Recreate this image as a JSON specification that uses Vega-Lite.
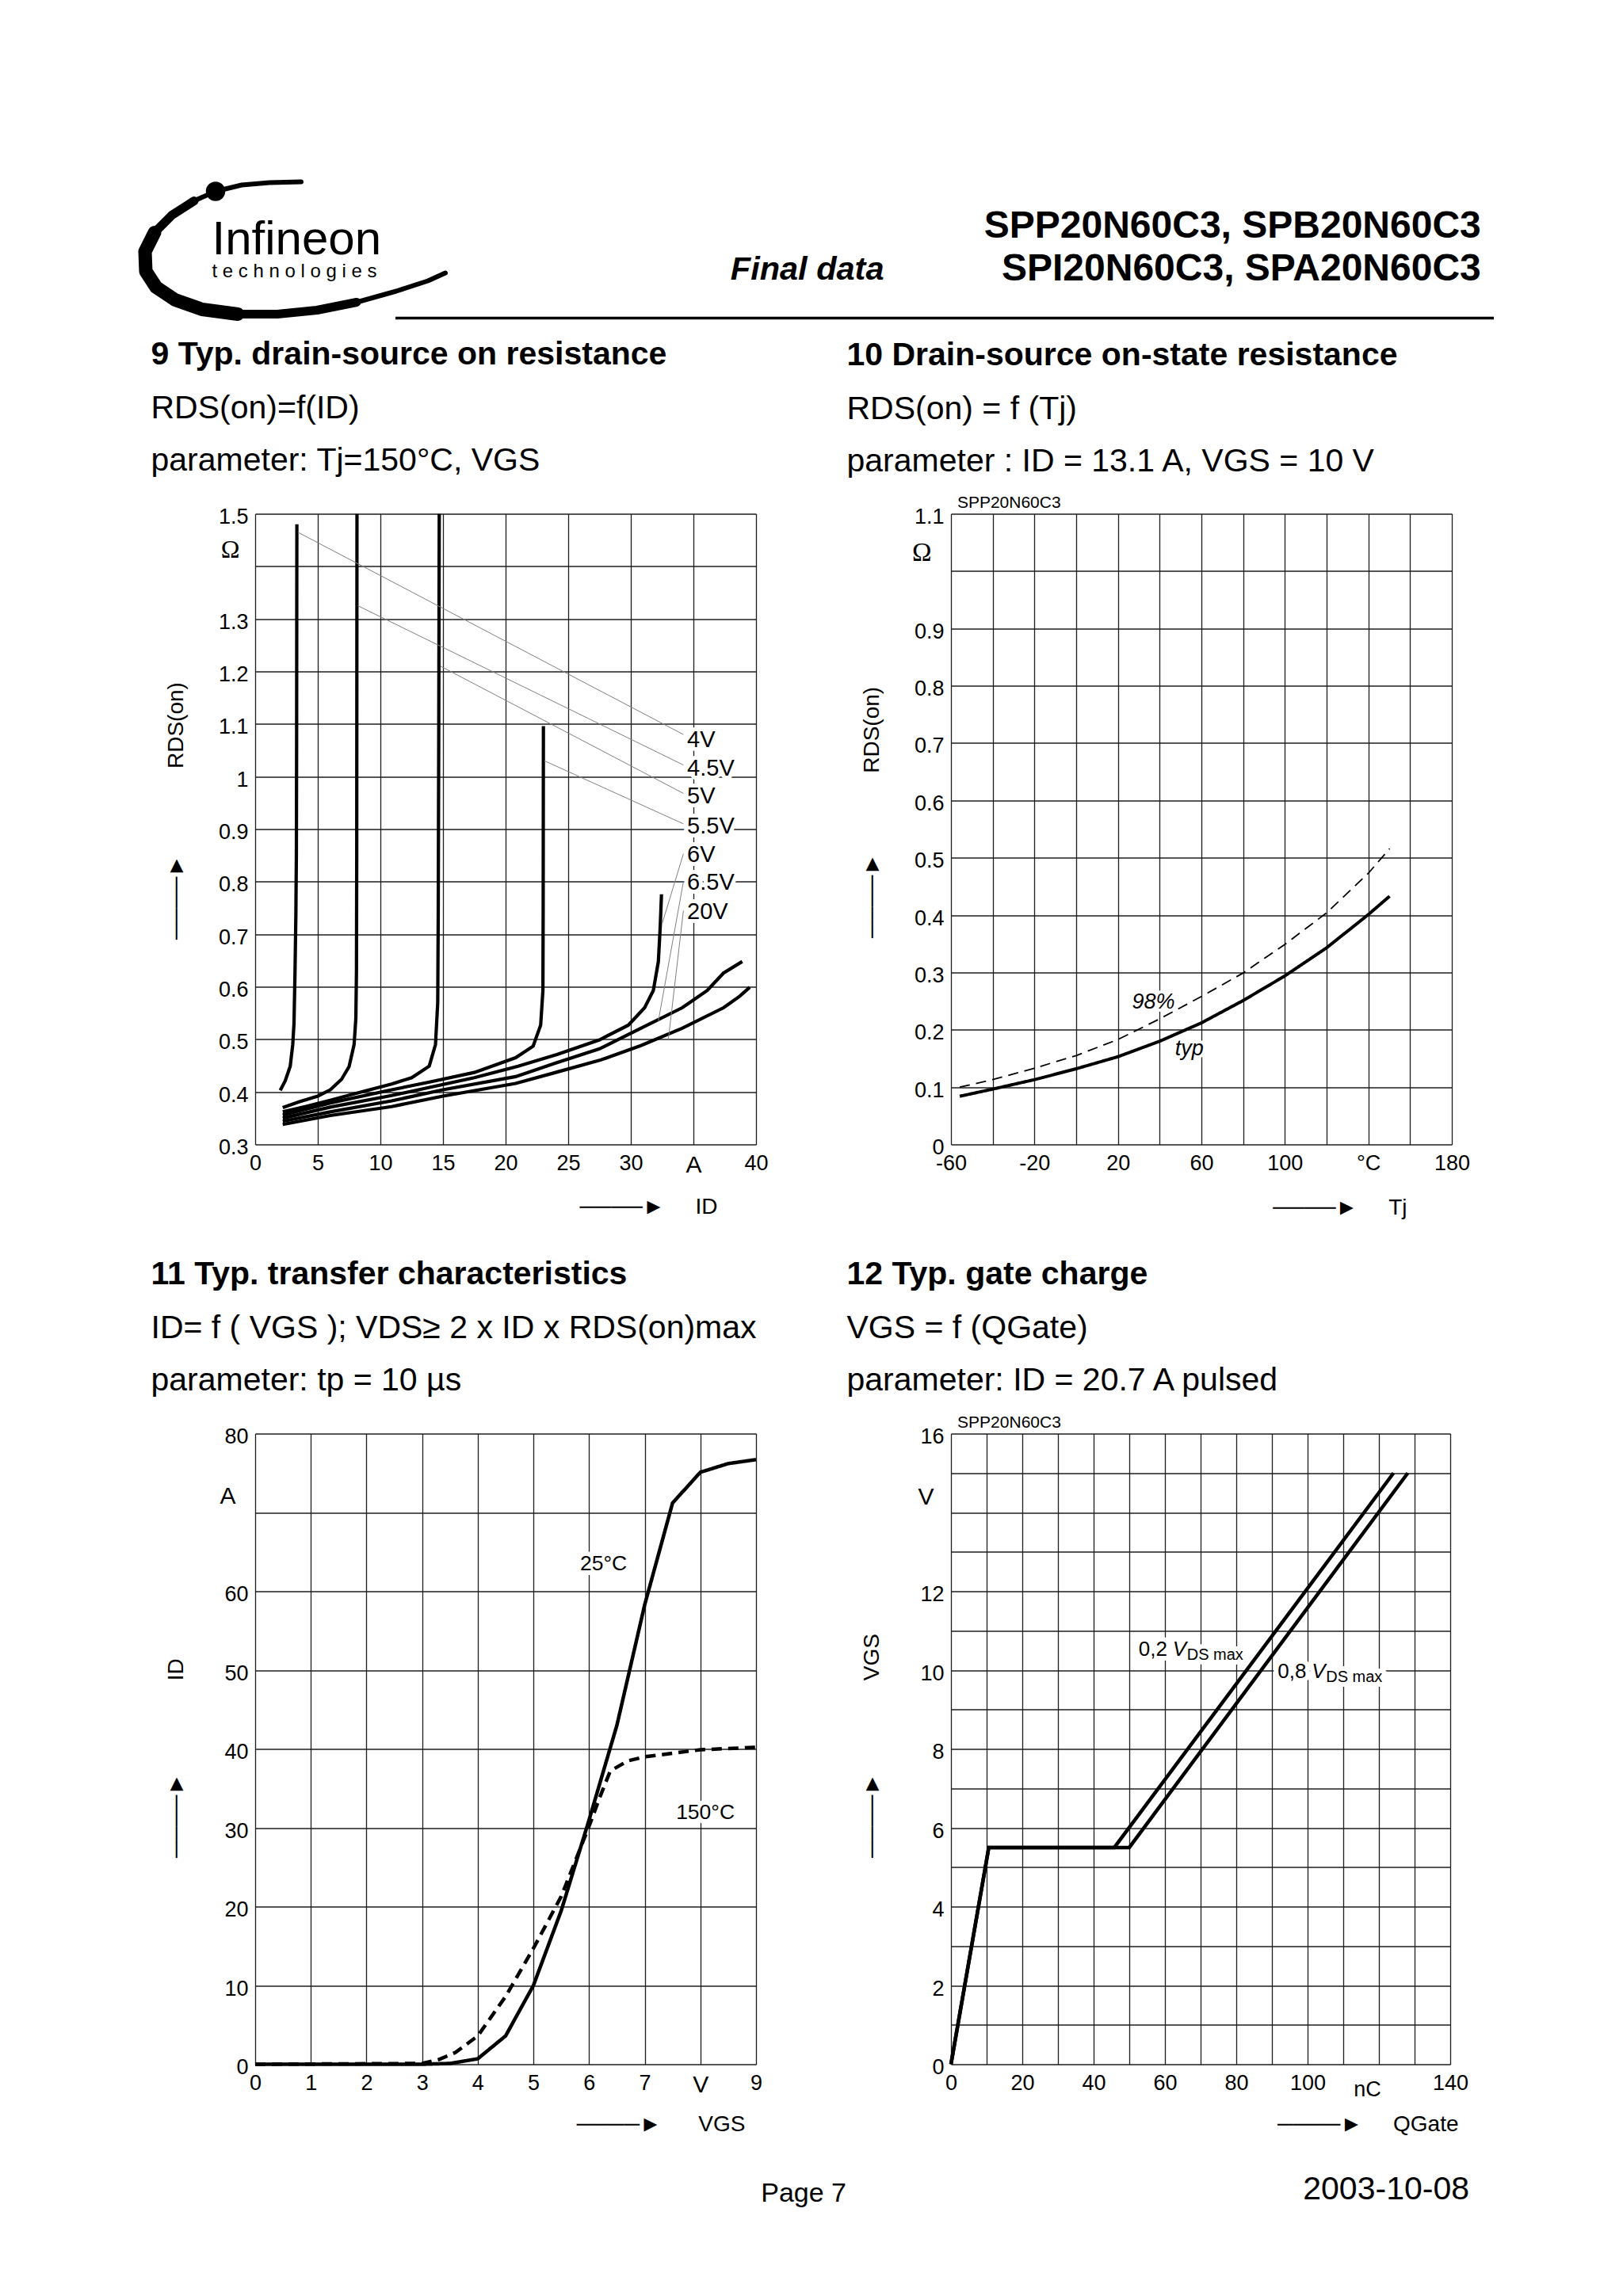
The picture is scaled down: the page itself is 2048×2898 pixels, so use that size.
{
  "$schema": "https://vega.github.io/schema/vega-lite/v6.json",
  "background": "white",
  "padding": {"left": 174, "top": 221.5, "right": 10, "bottom": 10},
  "title": {"text": ["SPP20N60C3, SPB20N60C3", "SPI20N60C3, SPA20N60C3"], "orient": "top", "anchor": "end", "frame": "bounds", "dx": -18, "dy": 142.6, "offset": 0, "fontSize": 48, "fontWeight": "bold", "lineHeight": 54},
  "columns": 2,
  "spacing": {"row": 365, "column": 246},
  "bounds": "flush",
  "align": "each",
  "datasets": {
    "crescent": [
      {"i": 1, "x": 205, "y": 8}, {"i": 2, "x": 165, "y": 9}, {"i": 3, "x": 130, "y": 12}, {"i": 4, "x": 97, "y": 20},
      {"i": 5, "x": 70, "y": 32}, {"i": 6, "x": 42, "y": 50}, {"i": 7, "x": 20, "y": 72}, {"i": 8, "x": 8, "y": 96},
      {"i": 9, "x": 9, "y": 121}, {"i": 10, "x": 22, "y": 141}, {"i": 11, "x": 46, "y": 157}, {"i": 12, "x": 80, "y": 169},
      {"i": 13, "x": 125, "y": 175}, {"i": 14, "x": 175, "y": 175}, {"i": 15, "x": 225, "y": 170}, {"i": 16, "x": 275, "y": 160},
      {"i": 17, "x": 325, "y": 146}, {"i": 18, "x": 365, "y": 133}, {"i": 19, "x": 387, "y": 123}
    ]
  },
  "config": {
    "view": {"stroke": null},
    "font": "Liberation Sans",
    "axis": {"grid": true, "gridColor": "#1e1e1e", "gridWidth": 1.3, "gridOpacity": 1, "domain": false, "ticks": false, "tickSize": 0,
      "labelFont": "Liberation Sans", "labelFontSize": 27, "labelColor": "#000", "labelOverlap": false, "labelFlush": false,
      "titleFont": "Liberation Sans", "titleFontSize": 28, "titleFontWeight": "normal", "titleColor": "#000", "titleLimit": 1000},
    "axisX": {"labelPadding": 10.5, "titleAngle": 0, "titleAlign": "right", "titleBaseline": "alphabetic"},
    "axisY": {"labelPadding": 9, "titleAngle": -90, "titleAlign": "left", "titleBaseline": "alphabetic"},
    "title": {"font": "Liberation Sans", "fontSize": 41, "fontWeight": "bold", "color": "#000",
      "subtitleFont": "Liberation Sans", "subtitleFontSize": 41, "subtitleFontWeight": "normal", "subtitleColor": "#000",
      "subtitleLineHeight": 66, "subtitlePadding": 27, "anchor": "start", "frame": "group", "orient": "top"},
    "text": {"font": "Liberation Sans", "fill": "#000"}
  },
  "concat": [
    {
      "width": 632, "height": 61.5,
      "title": {"text": "Page 7", "orient": "bottom", "fontSize": 34, "fontWeight": "normal", "anchor": "end", "frame": "group", "dx": 114, "offset": 2346.5},
      "encoding": {
        "x": {"field": "x", "type": "quantitative", "scale": {"domain": [147, 779], "nice": false, "zero": false}, "axis": null},
        "y": {"field": "y", "type": "quantitative", "scale": {"domain": [0, 61.5], "reverse": true, "nice": false, "zero": false}, "axis": null}
      },
      "layer": [
        {
          "data": {"name": "crescent"},
          "mark": {"type": "line", "stroke": "#000", "strokeWidth": 6, "strokeCap": "round", "strokeJoin": "round"},
          "encoding": {"order": {"field": "i", "type": "quantitative"}}
        },
        {
          "data": {"name": "crescent"},
          "transform": [{"filter": "datum.i >= 5 && datum.i <= 16"}],
          "mark": {"type": "line", "stroke": "#000", "strokeWidth": 11, "strokeCap": "round", "strokeJoin": "round"},
          "encoding": {"order": {"field": "i", "type": "quantitative"}}
        },
        {
          "data": {"name": "crescent"},
          "transform": [{"filter": "datum.i >= 7 && datum.i <= 13"}],
          "mark": {"type": "line", "stroke": "#000", "strokeWidth": 17, "strokeCap": "round", "strokeJoin": "round"},
          "encoding": {"order": {"field": "i", "type": "quantitative"}}
        },
        {
          "data": {"values": [{"x": 97, "y": 20}]},
          "mark": {"type": "point", "shape": "circle", "filled": true, "fill": "#000", "opacity": 1, "size": 600},
          "encoding": {}
        },
        {
          "data": {"values": [{"t": "Infineon", "x": 92.5, "y": 99}]},
          "mark": {"type": "text", "align": "left", "baseline": "alphabetic", "fontSize": 60},
          "encoding": {"text": {"field": "t"}}
        },
        {
          "data": {"values": [{"t": "t e c h n o l o g i e s", "x": 92.5, "y": 128.5}]},
          "mark": {"type": "text", "align": "left", "baseline": "alphabetic", "fontSize": 24},
          "encoding": {"text": {"field": "t"}}
        },
        {
          "data": {"values": [{"t": "Final data", "x": 746.8, "y": 131.2}]},
          "mark": {"type": "text", "align": "left", "baseline": "alphabetic", "fontSize": 41.5, "fontStyle": "italic", "fontWeight": "bold"},
          "encoding": {"text": {"field": "t"}}
        },
        {
          "data": {"values": [{"x": 324, "x2": 1710, "y": 180}]},
          "mark": {"type": "rule", "stroke": "#000", "strokeWidth": 3.5},
          "encoding": {"x2": {"field": "x2"}}
        }
      ]
    },
    {
      "width": 632, "height": 61.5,
      "title": {"text": "2003-10-08", "orient": "bottom", "fontSize": 41, "fontWeight": "normal", "anchor": "end", "frame": "group", "dx": 22, "offset": 2461.3},
      "data": {"values": [{}]},
      "mark": {"type": "text"},
      "encoding": {}
    },
    {
      "width": 632, "height": 796,
      "title": {"text": "9 Typ. drain-source on resistance", "subtitle": ["RDS(on)=f(ID)", "parameter: Tj=150°C, VGS"], "dx": -131.5, "offset": 35.5},
      "encoding": {
        "x": {"field": "x", "type": "quantitative", "scale": {"domain": [0, 40], "nice": false, "zero": false},
          "axis": {"values": [0, 5, 10, 15, 20, 25, 30, 35, 40], "labelExpr": "datum.value == 35 ? 'A' : format(datum.value, 'd')",
            "labelFontSize": {"condition": {"test": "datum.value == 35", "value": 30}, "value": 27},
            "title": "\u2500\u2500\u2500\u2500\u25ba\u00a0\u00a0\u00a0\u00a0\u00a0ID", "titleX": 583, "titleY": 87}},
        "y": {"field": "y", "type": "quantitative", "scale": {"domain": [0.3, 1.5], "nice": false, "zero": false},
          "axis": {"values": [0.3, 0.4, 0.5, 0.6, 0.7, 0.8, 0.9, 1, 1.1, 1.2, 1.3, 1.4, 1.5],
            "labelExpr": "datum.value == 1.4 ? 'Ω' : format(datum.value, '.1~f')",
            "labelOffset": {"condition": {"test": "datum.value == 1.4", "value": -21}, "value": 4},
            "labelPadding": {"condition": {"test": "datum.value == 1.4", "value": 20}, "value": 9},
            "labelFont": {"condition": {"test": "datum.value == 1.4", "value": "Liberation Serif"}, "value": "Liberation Sans"},
            "labelFontSize": {"condition": {"test": "datum.value == 1.4", "value": 32}, "value": 27},
            "title": "\u2500\u2500\u2500\u2500\u25ba\u00a0\u00a0\u00a0\u00a0\u00a0\u00a0\u00a0\u00a0\u00a0\u00a0\u00a0\u00a0\u00a0\u00a0RDS(on)", "titleX": -92, "titleY": 537}}
      },
      "layer": [
        {
          "data": {"values": [
            {"s": "4V", "x": 2.0, "y": 0.403}, {"s": "4V", "x": 2.4, "y": 0.421}, {"s": "4V", "x": 2.8, "y": 0.449}, {"s": "4V", "x": 3.0, "y": 0.49},
            {"s": "4V", "x": 3.1, "y": 0.53}, {"s": "4V", "x": 3.18, "y": 0.626}, {"s": "4V", "x": 3.25, "y": 0.737}, {"s": "4V", "x": 3.29, "y": 0.85},
            {"s": "4V", "x": 3.31, "y": 1.07}, {"s": "4V", "x": 3.32, "y": 1.29}, {"s": "4V", "x": 3.33, "y": 1.48},
            {"s": "4.5V", "x": 2.2, "y": 0.37}, {"s": "4.5V", "x": 3.5, "y": 0.381}, {"s": "4.5V", "x": 5.0, "y": 0.392}, {"s": "4.5V", "x": 6.0, "y": 0.404},
            {"s": "4.5V", "x": 6.9, "y": 0.424}, {"s": "4.5V", "x": 7.5, "y": 0.448}, {"s": "4.5V", "x": 7.9, "y": 0.49}, {"s": "4.5V", "x": 8.04, "y": 0.54},
            {"s": "4.5V", "x": 8.09, "y": 0.63}, {"s": "4.5V", "x": 8.11, "y": 0.85}, {"s": "4.5V", "x": 8.12, "y": 1.2}, {"s": "4.5V", "x": 8.13, "y": 1.5},
            {"s": "5V", "x": 2.2, "y": 0.362}, {"s": "5V", "x": 4.0, "y": 0.372}, {"s": "5V", "x": 6.0, "y": 0.384}, {"s": "5V", "x": 8.0, "y": 0.397},
            {"s": "5V", "x": 10.9, "y": 0.415}, {"s": "5V", "x": 12.5, "y": 0.427}, {"s": "5V", "x": 13.9, "y": 0.449}, {"s": "5V", "x": 14.4, "y": 0.49},
            {"s": "5V", "x": 14.58, "y": 0.57}, {"s": "5V", "x": 14.62, "y": 0.74}, {"s": "5V", "x": 14.66, "y": 1.07}, {"s": "5V", "x": 14.7, "y": 1.5},
            {"s": "5.5V", "x": 2.2, "y": 0.356}, {"s": "5.5V", "x": 6.0, "y": 0.379}, {"s": "5.5V", "x": 10.9, "y": 0.404}, {"s": "5.5V", "x": 14.0, "y": 0.419},
            {"s": "5.5V", "x": 17.5, "y": 0.437}, {"s": "5.5V", "x": 20.8, "y": 0.465}, {"s": "5.5V", "x": 22.2, "y": 0.487}, {"s": "5.5V", "x": 22.8, "y": 0.527},
            {"s": "5.5V", "x": 22.98, "y": 0.593}, {"s": "5.5V", "x": 23.0, "y": 0.74}, {"s": "5.5V", "x": 23.02, "y": 1.096},
            {"s": "6V", "x": 2.2, "y": 0.35}, {"s": "6V", "x": 6.0, "y": 0.371}, {"s": "6V", "x": 10.9, "y": 0.393}, {"s": "6V", "x": 14.0, "y": 0.409},
            {"s": "6V", "x": 17.5, "y": 0.427}, {"s": "6V", "x": 21.0, "y": 0.449}, {"s": "6V", "x": 24.1, "y": 0.471}, {"s": "6V", "x": 27.5, "y": 0.499},
            {"s": "6V", "x": 29.8, "y": 0.527}, {"s": "6V", "x": 31.1, "y": 0.56}, {"s": "6V", "x": 31.8, "y": 0.593}, {"s": "6V", "x": 32.2, "y": 0.648},
            {"s": "6V", "x": 32.35, "y": 0.715}, {"s": "6V", "x": 32.45, "y": 0.776},
            {"s": "6.5V", "x": 2.2, "y": 0.344}, {"s": "6.5V", "x": 6.0, "y": 0.362}, {"s": "6.5V", "x": 10.9, "y": 0.383}, {"s": "6.5V", "x": 15.0, "y": 0.404},
            {"s": "6.5V", "x": 20.8, "y": 0.429}, {"s": "6.5V", "x": 24.0, "y": 0.455}, {"s": "6.5V", "x": 27.5, "y": 0.482}, {"s": "6.5V", "x": 30.8, "y": 0.521},
            {"s": "6.5V", "x": 34.1, "y": 0.56}, {"s": "6.5V", "x": 36.1, "y": 0.593}, {"s": "6.5V", "x": 37.4, "y": 0.626}, {"s": "6.5V", "x": 38.9, "y": 0.648},
            {"s": "20V", "x": 2.2, "y": 0.338}, {"s": "20V", "x": 6.0, "y": 0.355}, {"s": "20V", "x": 10.9, "y": 0.372}, {"s": "20V", "x": 15.0, "y": 0.392},
            {"s": "20V", "x": 20.8, "y": 0.416}, {"s": "20V", "x": 24.0, "y": 0.437}, {"s": "20V", "x": 27.5, "y": 0.46}, {"s": "20V", "x": 30.8, "y": 0.488},
            {"s": "20V", "x": 34.1, "y": 0.521}, {"s": "20V", "x": 37.4, "y": 0.56}, {"s": "20V", "x": 38.7, "y": 0.582}, {"s": "20V", "x": 39.5, "y": 0.599}
          ]},
          "mark": {"type": "line", "stroke": "#000", "strokeWidth": 4.2, "clip": true},
          "encoding": {"detail": {"field": "s", "type": "nominal"}}
        },
        {
          "data": {"values": [
            {"x": 3.4, "y": 1.465, "x2": 34.2, "y2": 1.08}, {"x": 8.2, "y": 1.325, "x2": 34.2, "y2": 1.022},
            {"x": 14.8, "y": 1.21, "x2": 34.2, "y2": 0.968}, {"x": 23.1, "y": 1.03, "x2": 34.2, "y2": 0.91},
            {"x": 34.2, "y": 0.853, "x2": 32.5, "y2": 0.72}, {"x": 34.2, "y": 0.8, "x2": 32.2, "y2": 0.535},
            {"x": 34.2, "y": 0.745, "x2": 33.0, "y2": 0.5}
          ]},
          "mark": {"type": "rule", "stroke": "#808080", "strokeWidth": 1},
          "encoding": {"x2": {"field": "x2"}, "y2": {"field": "y2"}}
        },
        {
          "data": {"values": [
            {"t": "4V", "x": 34.5, "y": 1.069}, {"t": "4.5V", "x": 34.5, "y": 1.016}, {"t": "5V", "x": 34.5, "y": 0.962},
            {"t": "5.5V", "x": 34.5, "y": 0.905}, {"t": "6V", "x": 34.5, "y": 0.851}, {"t": "6.5V", "x": 34.5, "y": 0.798}, {"t": "20V", "x": 34.5, "y": 0.743}
          ]},
          "layer": [
            {"mark": {"type": "text", "align": "left", "baseline": "middle", "fontSize": 29, "stroke": "white", "strokeWidth": 10, "strokeJoin": "round"}, "encoding": {"text": {"field": "t"}}},
            {"mark": {"type": "text", "align": "left", "baseline": "middle", "fontSize": 29}, "encoding": {"text": {"field": "t"}}}
          ]
        }
      ]
    },
    {
      "width": 632, "height": 796,
      "title": {"text": "10 Drain-source on-state resistance", "subtitle": ["RDS(on) = f (Tj)", "parameter : ID = 13.1 A, VGS = 10 V"], "dx": -131.5, "offset": 19.5},
      "encoding": {
        "x": {"field": "x", "type": "quantitative", "scale": {"domain": [-60, 180], "nice": false, "zero": false},
          "axis": {"values": [-60, -40, -20, 0, 20, 40, 60, 80, 100, 120, 140, 160, 180],
            "labelExpr": "datum.value == 140 ? '°C' : (indexof([-60, -20, 20, 60, 100, 180], datum.value) >= 0 ? '' + datum.value : '')",
            "title": "\u2500\u2500\u2500\u2500\u25ba\u00a0\u00a0\u00a0\u00a0\u00a0Tj", "titleX": 575, "titleY": 88}},
        "y": {"field": "y", "type": "quantitative", "scale": {"domain": [0, 1.1], "nice": false, "zero": false},
          "axis": {"values": [0, 0.1, 0.2, 0.3, 0.4, 0.5, 0.6, 0.7, 0.8, 0.9, 1, 1.1],
            "labelExpr": "datum.value == 1 ? 'Ω' : format(datum.value, '.1~f')",
            "labelOffset": {"condition": {"test": "datum.value == 1", "value": -23}, "value": 4},
            "labelPadding": {"condition": {"test": "datum.value == 1", "value": 25}, "value": 9},
            "labelFont": {"condition": {"test": "datum.value == 1", "value": "Liberation Serif"}, "value": "Liberation Sans"},
            "labelFontSize": {"condition": {"test": "datum.value == 1", "value": 33}, "value": 27},
            "title": "\u2500\u2500\u2500\u2500\u25ba\u00a0\u00a0\u00a0\u00a0\u00a0\u00a0\u00a0\u00a0\u00a0\u00a0\u00a0\u00a0\u00a0RDS(on)", "titleX": -92, "titleY": 535}}
      },
      "layer": [
        {
          "data": {"values": [
            {"s": "typ", "x": -55.8, "y": 0.084}, {"s": "typ", "x": -40, "y": 0.0965}, {"s": "typ", "x": -20, "y": 0.113}, {"s": "typ", "x": 0, "y": 0.132},
            {"s": "typ", "x": 20, "y": 0.153}, {"s": "typ", "x": 40, "y": 0.18}, {"s": "typ", "x": 60, "y": 0.212}, {"s": "typ", "x": 80, "y": 0.251},
            {"s": "typ", "x": 100, "y": 0.294}, {"s": "typ", "x": 120, "y": 0.343}, {"s": "typ", "x": 140, "y": 0.401}, {"s": "typ", "x": 150.2, "y": 0.433},
            {"s": "98%", "x": -55.8, "y": 0.1}, {"s": "98%", "x": -40, "y": 0.113}, {"s": "98%", "x": -20, "y": 0.133}, {"s": "98%", "x": 0, "y": 0.155},
            {"s": "98%", "x": 20, "y": 0.183}, {"s": "98%", "x": 40, "y": 0.219}, {"s": "98%", "x": 60, "y": 0.258}, {"s": "98%", "x": 80, "y": 0.299},
            {"s": "98%", "x": 100, "y": 0.349}, {"s": "98%", "x": 120, "y": 0.404}, {"s": "98%", "x": 140, "y": 0.473}, {"s": "98%", "x": 150.2, "y": 0.516}
          ]},
          "mark": {"type": "line", "stroke": "#000"},
          "encoding": {
            "detail": {"field": "s", "type": "nominal"},
            "strokeDash": {"field": "s", "type": "nominal", "scale": {"domain": ["typ", "98%"], "range": [[1, 0], [13, 8]]}, "legend": null},
            "strokeWidth": {"field": "s", "type": "nominal", "scale": {"domain": ["typ", "98%"], "range": [4, 1.8]}, "legend": null}
          }
        },
        {
          "data": {"values": [{"t": "98%", "x": 37, "y": 0.248}, {"t": "typ", "x": 54.2, "y": 0.167}]},
          "layer": [
            {"mark": {"type": "text", "align": "center", "baseline": "middle", "fontSize": 27, "fontStyle": "italic", "stroke": "white", "strokeWidth": 8, "strokeJoin": "round"}, "encoding": {"text": {"field": "t"}}},
            {"mark": {"type": "text", "align": "center", "baseline": "middle", "fontSize": 27, "fontStyle": "italic"}, "encoding": {"text": {"field": "t"}}}
          ]
        },
        {
          "data": {"values": [{"t": "SPP20N60C3", "x": -57, "y": 1.1}]},
          "mark": {"type": "text", "align": "left", "baseline": "alphabetic", "fontSize": 21, "dy": -8},
          "encoding": {"text": {"field": "t"}}
        }
      ]
    },
    {
      "width": 632, "height": 796,
      "title": {"text": "11 Typ. transfer characteristics", "subtitle": ["ID= f ( VGS ); VDS≥ 2 x ID x RDS(on)max", "parameter: tp = 10 µs"], "dx": -131.5, "offset": 36},
      "encoding": {
        "x": {"field": "x", "type": "quantitative", "scale": {"domain": [0, 9], "nice": false, "zero": false},
          "axis": {"values": [0, 1, 2, 3, 4, 5, 6, 7, 8, 9], "labelExpr": "datum.value == 8 ? 'V' : format(datum.value, 'd')",
            "labelFontSize": {"condition": {"test": "datum.value == 8", "value": 30}, "value": 27},
            "title": "\u2500\u2500\u2500\u2500\u25ba\u00a0\u00a0\u00a0\u00a0\u00a0\u00a0VGS", "titleX": 618, "titleY": 84}},
        "y": {"field": "y", "type": "quantitative", "scale": {"domain": [0, 80], "nice": false, "zero": false},
          "axis": {"values": [0, 10, 20, 30, 40, 50, 60, 70, 80], "labelExpr": "datum.value == 70 ? 'A' : format(datum.value, 'd')",
            "labelOffset": {"condition": {"test": "datum.value == 70", "value": -21}, "value": 4},
            "labelPadding": {"condition": {"test": "datum.value == 70", "value": 25}, "value": 9},
            "labelFontSize": {"condition": {"test": "datum.value == 70", "value": 30}, "value": 27},
            "title": "\u2500\u2500\u2500\u2500\u25ba\u00a0\u00a0\u00a0\u00a0\u00a0\u00a0\u00a0\u00a0\u00a0\u00a0\u00a0\u00a0\u00a0\u00a0\u00a0ID", "titleX": -92, "titleY": 535}}
      },
      "layer": [
        {
          "data": {"values": [
            {"s": "25°C", "x": 0, "y": 0}, {"s": "25°C", "x": 3.0, "y": 0}, {"s": "25°C", "x": 3.5, "y": 0.1}, {"s": "25°C", "x": 4.0, "y": 0.7},
            {"s": "25°C", "x": 4.5, "y": 3.6}, {"s": "25°C", "x": 5.0, "y": 10}, {"s": "25°C", "x": 5.5, "y": 19.5}, {"s": "25°C", "x": 6.0, "y": 31},
            {"s": "25°C", "x": 6.5, "y": 43}, {"s": "25°C", "x": 7.0, "y": 58.3}, {"s": "25°C", "x": 7.5, "y": 71.2}, {"s": "25°C", "x": 8.0, "y": 75.1},
            {"s": "25°C", "x": 8.5, "y": 76.2}, {"s": "25°C", "x": 9.0, "y": 76.7},
            {"s": "150°C", "x": 0, "y": 0}, {"s": "150°C", "x": 3.0, "y": 0.1}, {"s": "150°C", "x": 3.3, "y": 0.6}, {"s": "150°C", "x": 3.6, "y": 1.5},
            {"s": "150°C", "x": 4.0, "y": 3.6}, {"s": "150°C", "x": 4.5, "y": 8.6}, {"s": "150°C", "x": 5.0, "y": 14.7}, {"s": "150°C", "x": 5.5, "y": 21.3},
            {"s": "150°C", "x": 6.0, "y": 30.2}, {"s": "150°C", "x": 6.2, "y": 34}, {"s": "150°C", "x": 6.38, "y": 37.2}, {"s": "150°C", "x": 6.7, "y": 38.5},
            {"s": "150°C", "x": 7.0, "y": 39.0}, {"s": "150°C", "x": 8.0, "y": 39.9}, {"s": "150°C", "x": 9.0, "y": 40.2}
          ]},
          "mark": {"type": "line", "stroke": "#000", "strokeWidth": 4.5},
          "encoding": {
            "detail": {"field": "s", "type": "nominal"},
            "strokeDash": {"field": "s", "type": "nominal", "scale": {"domain": ["25°C", "150°C"], "range": [[1, 0], [28, 12]]}, "legend": null}
          }
        },
        {
          "data": {"values": [{"t": "25°C", "x": 6.26, "y": 63.5}, {"t": "150°C", "x": 8.09, "y": 31.9}]},
          "layer": [
            {"mark": {"type": "text", "align": "center", "baseline": "middle", "fontSize": 26.5, "stroke": "white", "strokeWidth": 12, "strokeJoin": "round"}, "encoding": {"text": {"field": "t"}}},
            {"mark": {"type": "text", "align": "center", "baseline": "middle", "fontSize": 26.5}, "encoding": {"text": {"field": "t"}}}
          ]
        }
      ]
    },
    {
      "width": 630, "height": 796,
      "title": {"text": "12 Typ. gate charge", "subtitle": ["VGS = f  (QGate)", "parameter: ID = 20.7 A pulsed"], "dx": -131.5, "offset": 20.5},
      "encoding": {
        "x": {"field": "x", "type": "quantitative", "scale": {"domain": [0, 140], "nice": false, "zero": false},
          "axis": {"values": [0, 10, 20, 30, 40, 50, 60, 70, 80, 90, 100, 110, 120, 130, 140],
            "labelExpr": "datum.value == 120 ? 'nC' : (datum.value % 20 == 0 ? format(datum.value, 'd') : '')",
            "labelOffset": {"condition": {"test": "datum.value == 120", "value": -15}, "value": 0},
            "labelPadding": {"condition": {"test": "datum.value == 120", "value": 19}, "value": 10.5},
            "title": "\u2500\u2500\u2500\u2500\u25ba\u00a0\u00a0\u00a0\u00a0\u00a0QGate", "titleX": 640, "titleY": 84}},
        "y": {"field": "y", "type": "quantitative", "scale": {"domain": [0, 16], "nice": false, "zero": false},
          "axis": {"values": [0, 1, 2, 3, 4, 5, 6, 7, 8, 9, 10, 11, 12, 13, 14, 15, 16],
            "labelExpr": "datum.value == 14 ? 'V' : (datum.value % 2 == 0 ? format(datum.value, 'd') : '')",
            "labelOffset": {"condition": {"test": "datum.value == 14", "value": -20}, "value": 4},
            "labelPadding": {"condition": {"test": "datum.value == 14", "value": 22}, "value": 9},
            "labelFontSize": {"condition": {"test": "datum.value == 14", "value": 30}, "value": 27},
            "title": "\u2500\u2500\u2500\u2500\u25ba\u00a0\u00a0\u00a0\u00a0\u00a0\u00a0\u00a0\u00a0\u00a0\u00a0\u00a0\u00a0\u00a0\u00a0\u00a0VGS", "titleX": -92, "titleY": 535}}
      },
      "layer": [
        {
          "data": {"values": [
            {"s": "0.2", "x": 0, "y": 0}, {"s": "0.2", "x": 10.6, "y": 5.5}, {"s": "0.2", "x": 45.8, "y": 5.5}, {"s": "0.2", "x": 124.1, "y": 15},
            {"s": "0.8", "x": 0, "y": 0}, {"s": "0.8", "x": 10.6, "y": 5.5}, {"s": "0.8", "x": 50.0, "y": 5.5}, {"s": "0.8", "x": 128.1, "y": 15}
          ]},
          "mark": {"type": "line", "stroke": "#000", "strokeWidth": 4.5},
          "encoding": {"detail": {"field": "s", "type": "nominal"}}
        },
        {
          "data": {"values": [{"a": "0,2", "x": 52.6, "y": 10.52}, {"a": "0,8", "x": 91.6, "y": 9.95}]},
          "layer": [
            {"mark": {"type": "text", "align": "left", "baseline": "middle", "fontSize": 26, "stroke": "white", "strokeWidth": 12, "strokeJoin": "round"}, "encoding": {"text": {"field": "a"}}},
            {"mark": {"type": "text", "align": "left", "baseline": "middle", "fontSize": 26, "fontStyle": "italic", "dx": 43, "stroke": "white", "strokeWidth": 12, "strokeJoin": "round"}, "encoding": {"text": {"value": "V"}}},
            {"mark": {"type": "text", "align": "left", "baseline": "middle", "fontSize": 20, "dx": 61, "dy": 7, "stroke": "white", "strokeWidth": 12, "strokeJoin": "round"}, "encoding": {"text": {"value": "DS max"}}},
            {"mark": {"type": "text", "align": "left", "baseline": "middle", "fontSize": 26}, "encoding": {"text": {"field": "a"}}},
            {"mark": {"type": "text", "align": "left", "baseline": "middle", "fontSize": 26, "fontStyle": "italic", "dx": 43}, "encoding": {"text": {"value": "V"}}},
            {"mark": {"type": "text", "align": "left", "baseline": "middle", "fontSize": 20, "dx": 61, "dy": 7}, "encoding": {"text": {"value": "DS max"}}}
          ]
        },
        {
          "data": {"values": [{"t": "SPP20N60C3", "x": 1.8, "y": 16}]},
          "mark": {"type": "text", "align": "left", "baseline": "alphabetic", "fontSize": 21, "dy": -8},
          "encoding": {"text": {"field": "t"}}
        }
      ]
    }
  ]
}
